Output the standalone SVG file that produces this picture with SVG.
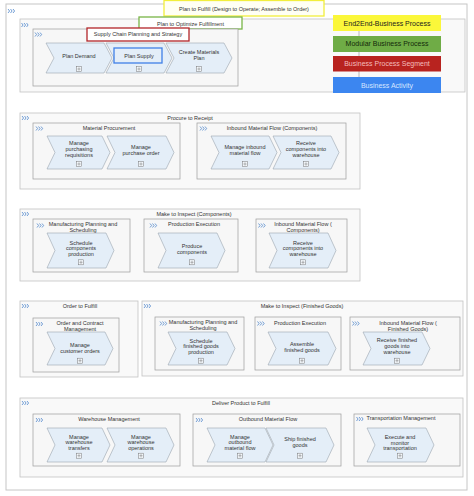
<svg xmlns="http://www.w3.org/2000/svg" xmlns:xlink="http://www.w3.org/1999/xlink" width="474" height="496" viewBox="0 0 474 496">
<style>
text{font-family:"Liberation Sans",Arial,sans-serif;font-size:5.5px;fill:#333;text-anchor:middle}
.outer{fill:#fff;stroke:#c6c6c6;stroke-width:1}
.cont{fill:#f9f9f9;stroke:#c2c2c2;stroke-width:0.8}
.box{fill:#f7f7f7;stroke:#9c9c9c;stroke-width:0.7}
.ch{fill:#e4eef8;stroke:#9aa4ae;stroke-width:0.6}
.lg{font-size:7px}
</style>
<defs>
<symbol id="ico" viewBox="0 0 7 4" width="7" height="4" overflow="visible">
<path d="M0,0 L1.6,2 L0,4 M2.5,0 L4.1,2 L2.5,4 M5,0 L6.6,2 L5,4" fill="none" stroke="#4f86cc" stroke-width="0.8"/>
</symbol>
<symbol id="plus" overflow="visible">
<rect x="-2.5" y="-2.5" width="5" height="5" fill="#f3f7fb" stroke="#777" stroke-width="0.5"/>
<path d="M-1.6,0 H1.6 M0,-1.6 V1.6" stroke="#777" stroke-width="0.5"/>
</symbol>
</defs>

<rect class="outer" x="6" y="4" width="461" height="486"/>
<use href="#ico" x="8" y="9"/>

<g id="e2e-title">
<rect x="164" y="0.5" width="160" height="15.5" fill="#fffff4" stroke="#f2ee3c" stroke-width="1.3"/>
<text x="244" y="11">Plan to Fulfill (Design to Operate; Assemble to Order)</text>
</g>

<g id="plan-to-optimize">
<rect class="cont" x="20" y="19" width="445" height="73"/>
<use href="#ico" x="21.5" y="23"/>
<rect x="139" y="17" width="103" height="12" fill="#fff" stroke="#79b547" stroke-width="1.3"/>
<text x="190.5" y="25.8">Plan to Optimize Fulfillment</text>
</g>

<g id="supply-chain-planning">
<rect class="box" x="33" y="29" width="205" height="57"/>
<use href="#ico" x="35" y="32.5"/>
<rect x="87" y="28" width="102" height="13" fill="#fff" stroke="#b3262a" stroke-width="1.3"/>
<text x="138" y="36.3">Supply Chain Planning and Strategy</text>
</g>

<g id="plan-demand">
<polygon class="ch" points="46,43 104,43 112,58 104,73 46,73 54,58"/>
<text x="79" y="58">Plan Demand</text>
<use href="#plus" x="79" y="69"/>
</g>
<g id="plan-supply">
<polygon class="ch" points="106,43 164,43 172,58 164,73 106,73 114,58"/>
<rect x="114" y="48" width="48" height="15" fill="none" stroke="#3f80e6" stroke-width="1.3"/>
<text x="139" y="58">Plan Supply</text>
<use href="#plus" x="139" y="69"/>
</g>
<g id="create-materials-plan">
<polygon class="ch" points="166,43 224,43 232,58 224,73 166,73 174,58"/>
<text x="199" y="54">Create Materials</text>
<text x="199" y="60">Plan</text>
<use href="#plus" x="199" y="69"/>
</g>

<g id="connectors">
<line x1="359" y1="31" x2="359" y2="77" stroke="#aaa" stroke-width="0.8"/>
</g>

<g id="legend">
<rect x="333" y="15" width="108" height="16" fill="#fbf73a"/>
<text class="lg" x="387" y="25.8" style="fill:#1a1a1a">End2End-Business Process</text>
<rect x="333" y="36" width="108" height="16" fill="#6fac46"/>
<text class="lg" x="387" y="46" style="fill:#132b0a">Modular Business Process</text>
<rect x="333" y="56" width="108" height="15.5" fill="#b8231f"/>
<text class="lg" x="387" y="66" style="fill:#f4bcbc">Business Process Segment</text>
<rect x="333" y="77" width="108" height="16" fill="#3c86f0"/>
<text class="lg" x="387" y="87.5" style="fill:#d6e5ff">Business Activity</text>
</g>

<!-- Row 2 -->
<g id="procure-to-receipt">
<rect class="cont" x="20" y="113" width="340" height="76"/>
<use href="#ico" x="22" y="116"/>
<text x="190" y="120">Procure to Receipt</text>
</g>
<g id="material-procurement">
<rect class="box" x="33" y="123" width="147" height="56"/>
<use href="#ico" x="36" y="126.5"/>
<text x="109" y="130">Material Procurement</text>
</g>
<g id="manage-purchasing-requisitions">
<polygon class="ch" points="47,136 102,136 110,152.5 102,169 47,169 55,152.5"/>
<text x="79" y="145">Manage</text>
<text x="79" y="150.8">purchasing</text>
<text x="79" y="156.6">requisitions</text>
<use href="#plus" x="79" y="164"/>
</g>
<g id="manage-purchase-order">
<polygon class="ch" points="107,136 166,136 174,152.5 166,169 107,169 115,152.5"/>
<text x="141" y="148.5">Manage</text>
<text x="141" y="154.5">purchase order</text>
<use href="#plus" x="141" y="164"/>
</g>
<g id="inbound-material-flow-components">
<rect class="box" x="197" y="123" width="149" height="56"/>
<use href="#ico" x="200" y="126.5"/>
<text x="272" y="130">Inbound Material Flow (Components)</text>
</g>
<g id="manage-inbound-material-flow">
<polygon class="ch" points="211,136 269,136 277,152.5 269,169 211,169 219,152.5"/>
<text x="245" y="149">Manage inbound</text>
<text x="245" y="155">material flow</text>
<use href="#plus" x="245" y="164"/>
</g>
<g id="receive-components-into-warehouse">
<polygon class="ch" points="273,136 331,136 339,152.5 331,169 273,169 281,152.5"/>
<text x="306" y="145">Receive</text>
<text x="306" y="150.8">components into</text>
<text x="306" y="156.6">warehouse</text>
<use href="#plus" x="306" y="164"/>
</g>

<!-- Row 3 -->
<g id="make-to-inspect-components">
<rect class="cont" x="20" y="209" width="340" height="72"/>
<use href="#ico" x="22" y="212"/>
<text x="194" y="216">Make to Inspect (Components)</text>
</g>
<g id="mfg-planning-scheduling-1">
<rect class="box" x="33" y="219" width="97" height="53"/>
<use href="#ico" x="37" y="223.5"/>
<text x="83" y="226">Manufacturing Planning and</text>
<text x="83" y="232">Scheduling</text>
</g>
<g id="schedule-components-production">
<polygon class="ch" points="47,233 106,233 114,250.5 106,268 47,268 55,250.5"/>
<text x="81" y="244.5">Schedule</text>
<text x="81" y="250.3">components</text>
<text x="81" y="256.1">production</text>
<use href="#plus" x="81" y="262.3"/>
</g>
<g id="production-execution-1">
<rect class="box" x="144" y="219" width="94" height="53"/>
<use href="#ico" x="150" y="223.5"/>
<text x="194" y="226">Production Execution</text>
</g>
<g id="produce-components">
<polygon class="ch" points="158,233 217,233 225,250.5 217,268 158,268 166,250.5"/>
<text x="192" y="247.5">Produce</text>
<text x="192" y="253.5">components</text>
<use href="#plus" x="192" y="262.3"/>
</g>
<g id="inbound-material-flow-components-2">
<rect class="box" x="256" y="219" width="91" height="53"/>
<use href="#ico" x="258.5" y="223.5"/>
<text x="303" y="226">Inbound Material Flow (</text>
<text x="303" y="232">Components)</text>
</g>
<g id="receive-components-into-warehouse-2">
<polygon class="ch" points="269,233 328,233 336,250.5 328,268 269,268 277,250.5"/>
<text x="303" y="244.5">Receive</text>
<text x="303" y="250.3">components into</text>
<text x="303" y="256.1">warehouse</text>
<use href="#plus" x="303" y="262.3"/>
</g>

<!-- Row 4 -->
<g id="order-to-fulfill">
<rect class="cont" x="20" y="301" width="118" height="76"/>
<use href="#ico" x="22" y="304"/>
<text x="80" y="307.5">Order to Fulfill</text>
</g>
<g id="order-contract-management">
<rect class="box" x="33" y="318" width="86" height="54"/>
<use href="#ico" x="36" y="322"/>
<text x="80" y="325">Order and Contract</text>
<text x="80" y="331">Management</text>
</g>
<g id="manage-customer-orders">
<polygon class="ch" points="47,332 105,332 113,348.5 105,365 47,365 55,348.5"/>
<text x="80" y="347">Manage</text>
<text x="80" y="353">customer orders</text>
<use href="#plus" x="80" y="360.7"/>
</g>
<g id="make-to-inspect-finished-goods">
<rect class="cont" x="142" y="301" width="321" height="75"/>
<use href="#ico" x="144" y="304"/>
<text x="302" y="307.5">Make to Inspect (Finished Goods)</text>
</g>
<g id="mfg-planning-scheduling-2">
<rect class="box" x="155" y="317" width="89" height="53"/>
<use href="#ico" x="160" y="321.5"/>
<text x="203" y="324">Manufacturing Planning and</text>
<text x="203" y="330">Scheduling</text>
</g>
<g id="schedule-finished-goods-production">
<polygon class="ch" points="168,332 227,332 235,348.5 227,365 168,365 176,348.5"/>
<text x="201" y="342.5">Schedule</text>
<text x="201" y="348.3">finished goods</text>
<text x="201" y="354.1">production</text>
<use href="#plus" x="201" y="360.7"/>
</g>
<g id="production-execution-2">
<rect class="box" x="255" y="317" width="86" height="53"/>
<use href="#ico" x="257.5" y="321.5"/>
<text x="300" y="325">Production Execution</text>
</g>
<g id="assemble-finished-goods">
<polygon class="ch" points="268,332 328,332 336,348.5 328,365 268,365 276,348.5"/>
<text x="302" y="346">Assemble</text>
<text x="302" y="352">finished goods</text>
<use href="#plus" x="302" y="360.7"/>
</g>
<g id="inbound-material-flow-finished-goods">
<rect class="box" x="350" y="317" width="110" height="53"/>
<use href="#ico" x="352.5" y="321.5"/>
<text x="408" y="325">Inbound Material Flow (</text>
<text x="408" y="330.8">Finished Goods)</text>
</g>
<g id="receive-finished-goods-into-warehouse">
<polygon class="ch" points="363,332 422,332 430,348.5 422,365 363,365 371,348.5"/>
<text x="397" y="342">Receive finished</text>
<text x="397" y="347.8">goods into</text>
<text x="397" y="353.6">warehouse</text>
<use href="#plus" x="397" y="360.7"/>
</g>

<!-- Row 5 -->
<g id="deliver-product-to-fulfill">
<rect class="cont" x="20" y="398" width="443" height="79"/>
<use href="#ico" x="22" y="401"/>
<text x="241" y="404.5">Deliver Product to Fulfill</text>
</g>
<g id="warehouse-management">
<rect class="box" x="33" y="414" width="147" height="52"/>
<use href="#ico" x="36" y="418"/>
<text x="109" y="421">Warehouse Management</text>
</g>
<g id="manage-warehouse-transfers">
<polygon class="ch" points="47,428 102,428 110,445 102,462 47,462 55,445"/>
<text x="79" y="438.5">Manage</text>
<text x="79" y="444.3">warehouse</text>
<text x="79" y="450.1">transfers</text>
<use href="#plus" x="79" y="455.7"/>
</g>
<g id="manage-warehouse-operations">
<polygon class="ch" points="107,428 166,428 174,445 166,462 107,462 115,445"/>
<text x="141" y="438.5">Manage</text>
<text x="141" y="444.3">warehouse</text>
<text x="141" y="450.1">operations</text>
<use href="#plus" x="141" y="455.7"/>
</g>
<g id="outbound-material-flow">
<rect class="box" x="193" y="414" width="148" height="52"/>
<use href="#ico" x="196" y="418"/>
<text x="268" y="421">Outbound Material Flow</text>
</g>
<g id="manage-outbound-material-flow">
<polygon class="ch" points="207,428 265,428 273,445 265,462 207,462 215,445"/>
<text x="240" y="438.5">Manage</text>
<text x="240" y="444.3">outbound</text>
<text x="240" y="450.1">material flow</text>
<use href="#plus" x="240" y="455.7"/>
</g>
<g id="ship-finished-goods">
<polygon class="ch" points="266,428 326,428 334,445 326,462 266,462 274,445"/>
<text x="300" y="441">Ship finished</text>
<text x="300" y="447">goods</text>
<use href="#plus" x="300" y="455.7"/>
</g>
<g id="transportation-management">
<rect class="box" x="354" y="414" width="106" height="52"/>
<use href="#ico" x="356.5" y="417"/>
<text x="401" y="420.3">Transportation Management</text>
</g>
<g id="execute-monitor-transportation">
<polygon class="ch" points="367,428 426,428 434,445 426,462 367,462 375,445"/>
<text x="400" y="439">Execute and</text>
<text x="400" y="444.6">monitor</text>
<text x="400" y="450.2">transportation</text>
<use href="#plus" x="400" y="455.7"/>
</g>
</svg>
